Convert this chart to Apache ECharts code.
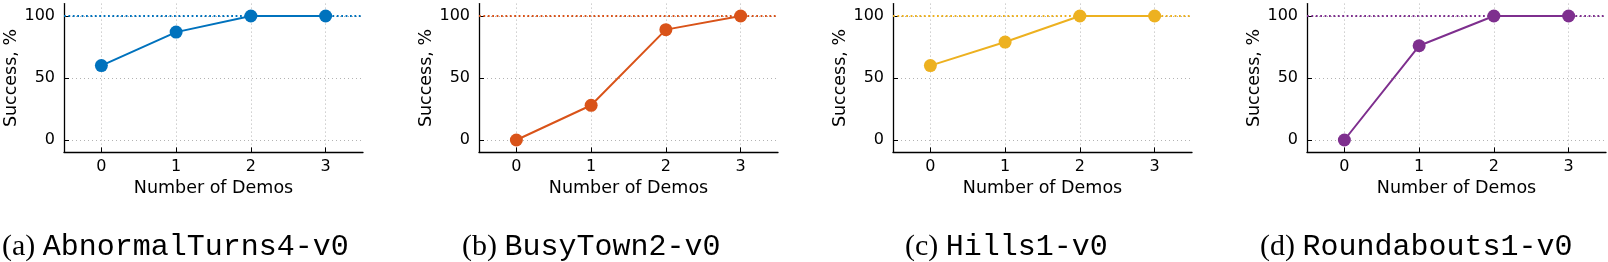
<!DOCTYPE html>
<html><head><meta charset="utf-8">
<script src="https://cdn.jsdelivr.net/npm/echarts@6/dist/echarts.min.js"></script>
<style>html,body{margin:0;padding:0;background:#fff}#c{width:1608px;height:262px}</style>
</head><body><div id="c"></div>
<script>
// ---- data ----
const demos = [0, 1, 2, 3];
const successA = [60, 87, 100, 100];
const successB = [0, 28, 89, 100];
const successC = [60, 79, 100, 100];
const successD = [0, 76, 100, 100];
const envNames = ['AbnormalTurns4-v0', 'BusyTown2-v0', 'Hills1-v0', 'Roundabouts1-v0'];
const panelTags = ['(a)', '(b)', '(c)', '(d)'];
const yTicks = [0, 50, 100];
const xTicks = [0, 1, 2, 3];
const targetLevel = 100;
const xTitle = 'Number of Demos';
const yTitle = 'Success, %';

// ---- styling / layout ----
const colors = ['#0072BD', '#D95319', '#EDB120', '#7E2F8E'];
const gridLefts = [64, 479, 893, 1307];
const captionLefts = [2, 462, 905, 1260];
const SANS = 'DejaVu Sans';
const allSeries = [successA, successB, successC, successD];

const chart = echarts.init(document.getElementById('c'));
const grids = [], xAxes = [], yAxes = [], series = [], titles = [];
const gridLine = {show: true, lineStyle: {color: '#b3b3b3', width: 1, type: [1, 3]}};

allSeries.forEach((vals, i) => {
  grids.push({left: gridLefts[i], width: 299, top: 3.6, height: 148.8});
  xAxes.push({
    type: 'value', gridIndex: i, min: -0.5, max: 3.5,
    axisLine: {show: true, onZero: false, lineStyle: {color: '#000', width: 1.3}},
    axisTick: {show: true, inside: true, length: 5, customValues: xTicks, lineStyle: {color: '#000', width: 1}},
    axisLabel: {customValues: xTicks, margin: 6, color: '#000', fontSize: 16, fontFamily: SANS},
    splitLine: gridLine,
    name: xTitle, nameLocation: 'middle', nameGap: 26,
    nameTextStyle: {color: '#000', fontSize: 17.5, fontFamily: SANS}
  });
  yAxes.push({
    type: 'value', gridIndex: i, min: -10, max: 110,
    axisLine: {show: true, onZero: false, lineStyle: {color: '#000', width: 1.3}},
    axisTick: {show: true, inside: true, length: 5, customValues: yTicks, lineStyle: {color: '#000', width: 1}},
    axisLabel: {customValues: yTicks, margin: 9, color: '#000', fontSize: 16, fontFamily: SANS},
    splitLine: gridLine,
    name: yTitle, nameLocation: 'middle', nameGap: 44, nameRotate: 90,
    nameTextStyle: {color: '#000', fontSize: 17.5, fontFamily: SANS}
  });
  series.push({
    type: 'line', xAxisIndex: i, yAxisIndex: i,
    data: demos.map((d, k) => [d, vals[k]]),
    color: colors[i],
    lineStyle: {width: 2, color: colors[i]},
    symbol: 'circle', symbolSize: 13,
    itemStyle: {color: colors[i]},
    z: 3,
    markLine: {
      silent: true, symbol: 'none', animation: false,
      label: {show: false},
      lineStyle: {color: colors[i], width: 1.8, type: [1.8, 2.6]},
      data: [{yAxis: targetLevel}],
      z: 2
    }
  });
  titles.push({
    left: captionLefts[i], top: 232, padding: 0,
    text: '{t|' + panelTags[i] + ' }{m|' + envNames[i] + '}',
    textStyle: {
      rich: {
        t: {fontFamily: 'Liberation Serif', fontSize: 30, color: '#000', fontWeight: 'normal'},
        m: {fontFamily: 'Liberation Mono', fontSize: 30, color: '#000', fontWeight: 'normal'}
      }
    }
  });
});

chart.setOption({
  animation: false,
  backgroundColor: '#fff',
  title: titles,
  grid: grids, xAxis: xAxes, yAxis: yAxes, series: series
});
</script></body></html>
